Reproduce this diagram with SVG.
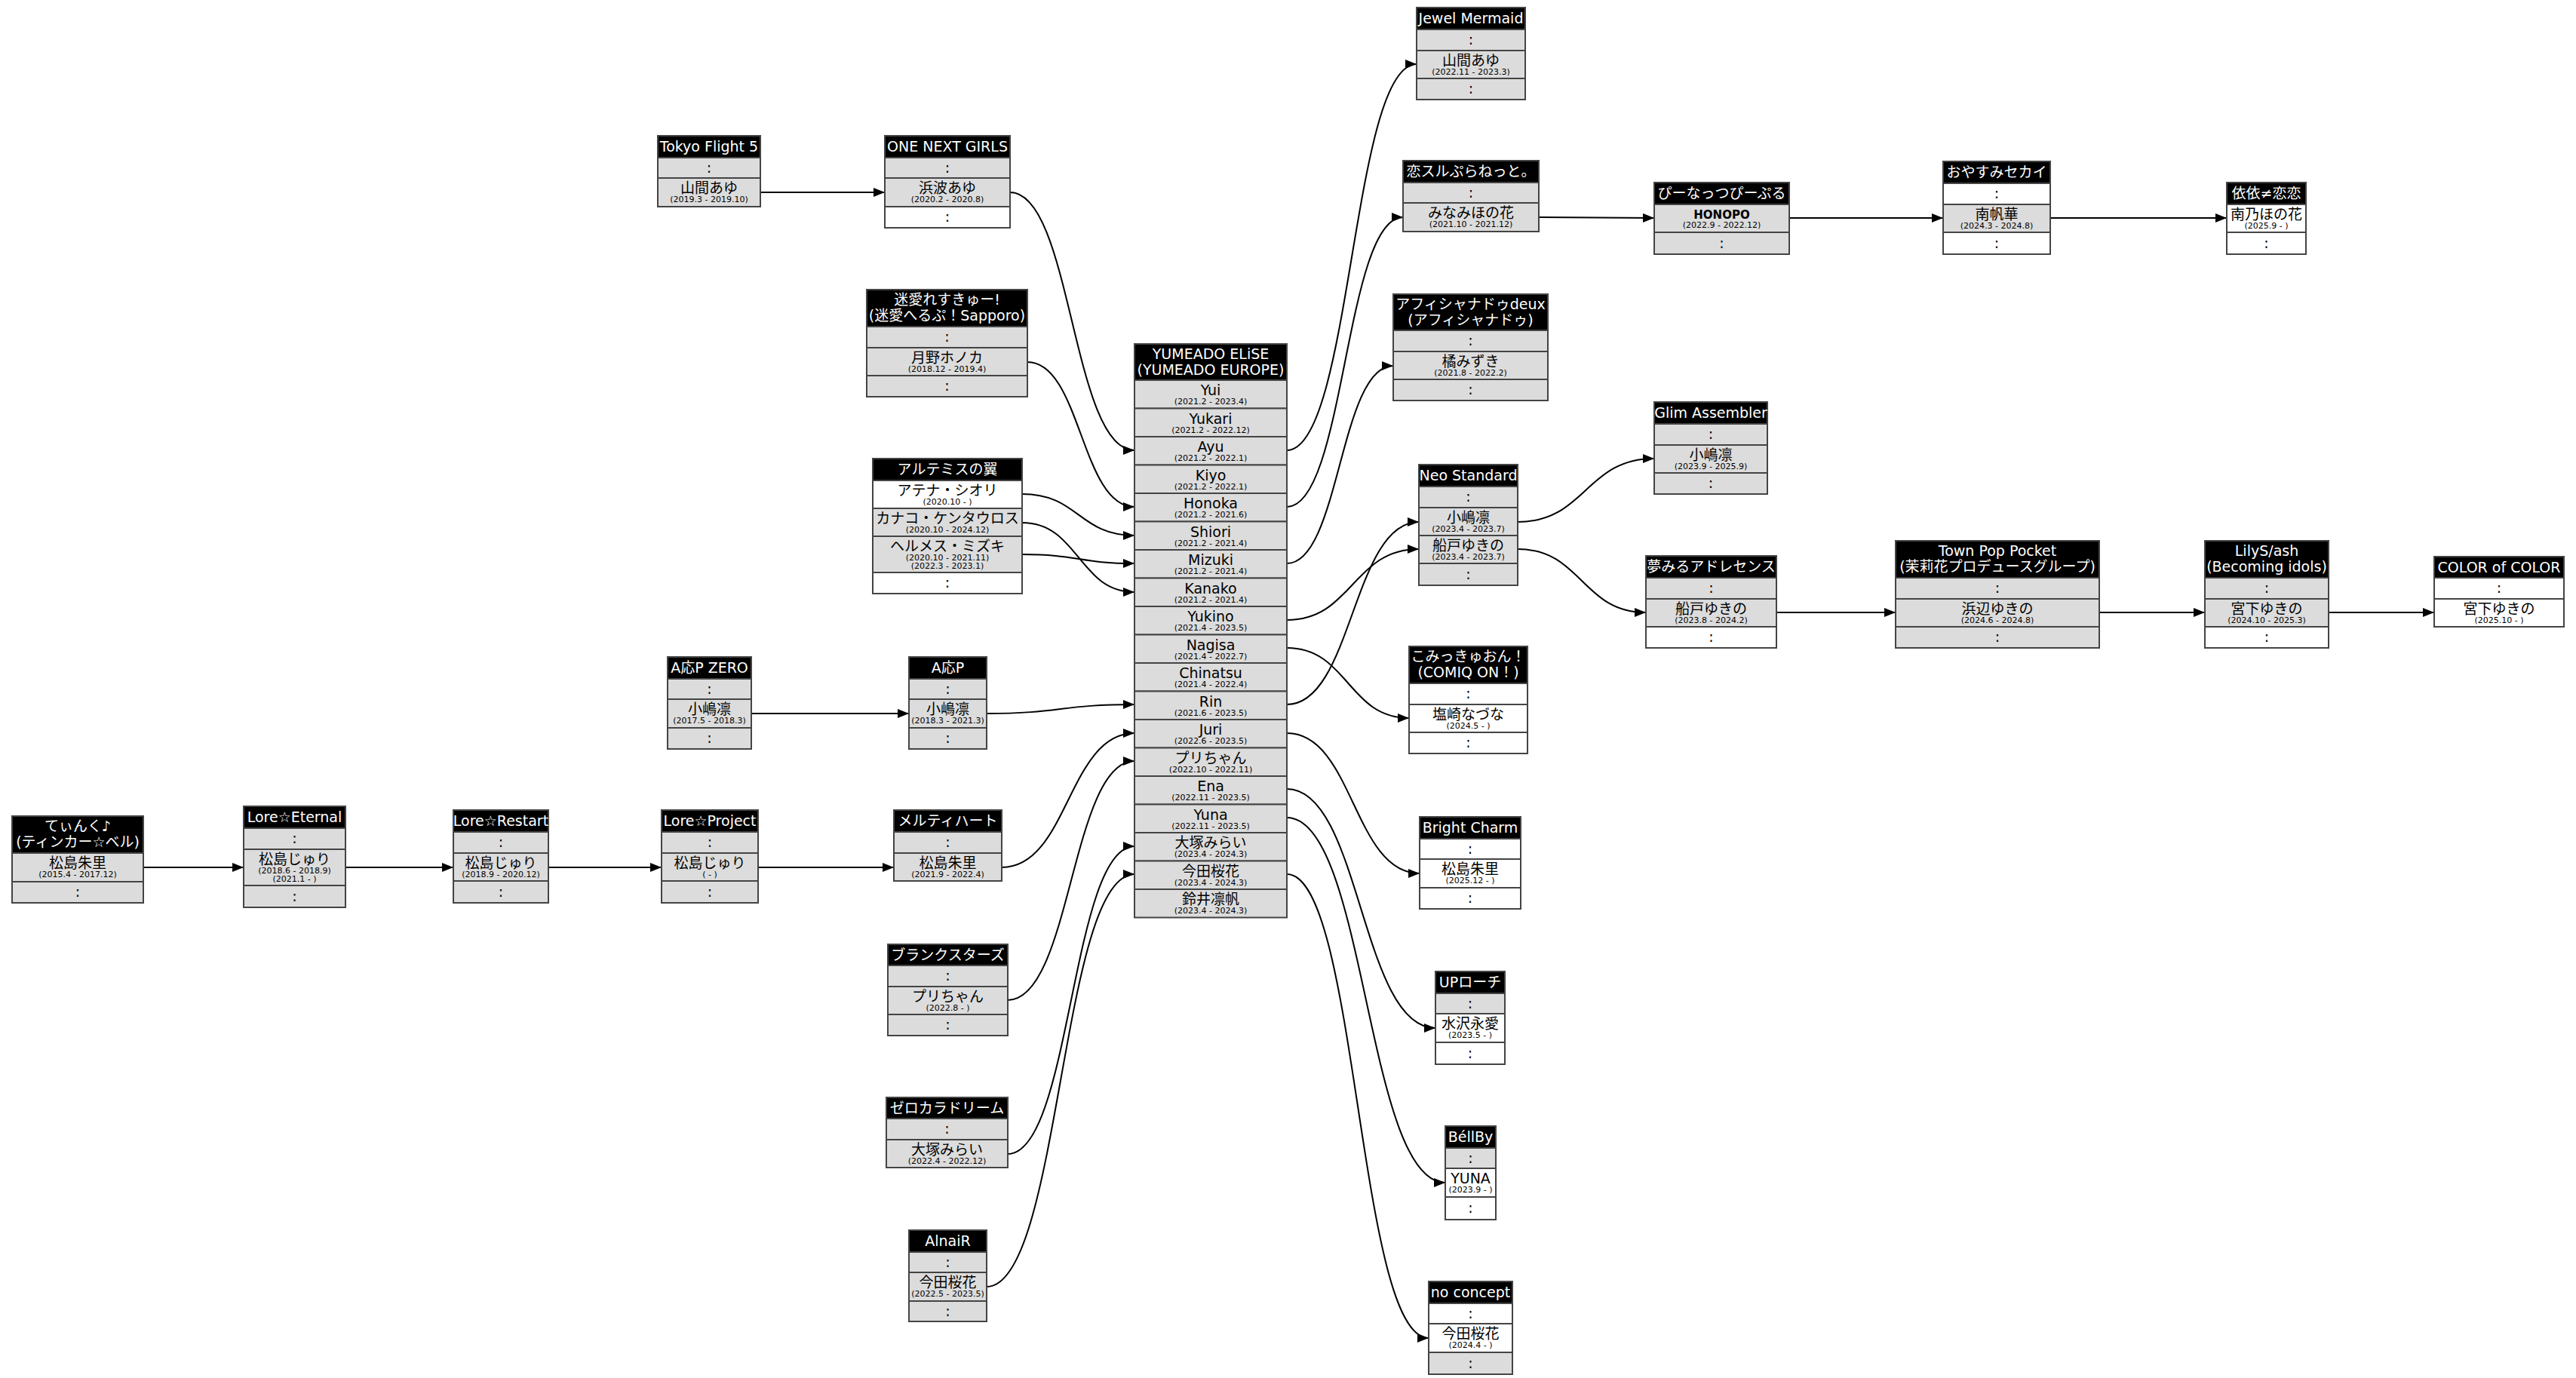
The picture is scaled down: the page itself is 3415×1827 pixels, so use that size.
<svg xmlns="http://www.w3.org/2000/svg" width="3415" height="1827" viewBox="0 0 3415 1827">
<style>
text{font-family:"DejaVu Sans","Noto Sans CJK JP",sans-serif;text-anchor:middle;fill:#000}
.t{fill:#fff;font-size:19px}
.n{font-size:19px}
.b{font-size:15px;font-weight:bold}
.d{font-size:11px}
.c{font-size:19px}
.h{fill:#000;stroke:#444;stroke-width:2}
.g{fill:#dcdcdc;stroke:#444;stroke-width:2}
.w{fill:#fff;stroke:#444;stroke-width:2}
.e path{fill:none;stroke:#000;stroke-width:2;marker-end:url(#a)}
</style>
<defs><marker id="a" markerUnits="userSpaceOnUse" markerWidth="16" markerHeight="12" refX="15" refY="6" orient="auto"><path d="M0,0 L15,6 L0,12 z" fill="#000"/></marker></defs>
<rect width="3415" height="1827" fill="#fff"/>
<g class="e">
<path d="M190,1150 L323,1150"/>
<path d="M458,1150 L601,1150"/>
<path d="M727,1150 L877,1150"/>
<path d="M1005,1150 L1185,1150"/>
<path d="M1328,1150 C1416,1150 1416,972 1504,972"/>
<path d="M1336,1326 C1420,1326 1420,1009 1504,1009"/>
<path d="M1336,1530 C1420,1530 1420,1122 1504,1122"/>
<path d="M1308,1706 C1406,1706 1406,1159 1504,1159"/>
<path d="M996,946 L1205,946"/>
<path d="M1308,946 C1406,946 1406,934 1504,934"/>
<path d="M1008,255 L1173,255"/>
<path d="M1339,255 C1421,255 1421,597 1504,597"/>
<path d="M1362,480 C1433,480 1433,672 1504,672"/>
<path d="M1355,655 C1430,655 1430,710 1504,710"/>
<path d="M1355,693 C1430,693 1430,785 1504,785"/>
<path d="M1355,735 C1430,735 1430,747 1504,747"/>
<path d="M1706,597 C1792,597 1792,85 1878,85"/>
<path d="M1706,672 C1783,672 1783,288 1860,288"/>
<path d="M1706,747 C1776,747 1776,485 1847,485"/>
<path d="M1706,822 C1793,822 1793,728 1881,728"/>
<path d="M1706,934 C1793,934 1793,692 1881,692"/>
<path d="M1706,859 C1787,859 1787,952 1868,952"/>
<path d="M1706,972 C1794,972 1794,1158 1882,1158"/>
<path d="M1706,1046 C1804,1046 1804,1363 1903,1363"/>
<path d="M1706,1084 C1811,1084 1811,1568 1916,1568"/>
<path d="M1706,1159 C1800,1159 1800,1774 1894,1774"/>
<path d="M2040,288 L2193,289"/>
<path d="M2372,289 L2576,289"/>
<path d="M2718,289 L2952,289"/>
<path d="M2012,692 C2102,692 2102,608 2193,608"/>
<path d="M2012,728 C2097,728 2097,812 2182,812"/>
<path d="M2355,812 L2513,812"/>
<path d="M2783,812 L2923,812"/>
<path d="M3087,812 L3227,812"/>
</g>

<g id="tinker">
<rect class="h" x="16" y="1082" width="174" height="49"/><text class="t" x="103" y="1102">てぃんく♪</text><text class="t" x="103" y="1123">(ティンカー☆ベル)</text>
<rect class="g" x="16" y="1131" width="174" height="38"/><text class="n" x="103" y="1151">松島朱里</text><text class="d" x="103" y="1163">(2015.4 - 2017.12)</text>
<rect class="g" x="16" y="1169" width="174" height="28"/><text class="c" x="103" y="1189">:</text>
</g>
<g id="loreEternal">
<rect class="h" x="323" y="1069" width="135" height="29"/><text class="t" x="390.5" y="1090">Lore☆Eternal</text>
<rect class="g" x="323" y="1098" width="135" height="28"/><text class="c" x="390.5" y="1118">:</text>
<rect class="g" x="323" y="1126" width="135" height="48"/><text class="n" x="390.5" y="1146">松島じゅり</text><text class="d" x="390.5" y="1158">(2018.6 - 2018.9)</text><text class="d" x="390.5" y="1169">(2021.1 - )</text>
<rect class="g" x="323" y="1174" width="135" height="29"/><text class="c" x="390.5" y="1195">:</text>
</g>
<g id="loreRestart">
<rect class="h" x="601" y="1074" width="126" height="29"/><text class="t" x="664" y="1095">Lore☆Restart</text>
<rect class="g" x="601" y="1103" width="126" height="28"/><text class="c" x="664" y="1123">:</text>
<rect class="g" x="601" y="1131" width="126" height="37"/><text class="n" x="664" y="1151">松島じゅり</text><text class="d" x="664" y="1163">(2018.9 - 2020.12)</text>
<rect class="g" x="601" y="1168" width="126" height="29"/><text class="c" x="664" y="1189">:</text>
</g>
<g id="loreProject">
<rect class="h" x="877" y="1074" width="128" height="29"/><text class="t" x="941" y="1095">Lore☆Project</text>
<rect class="g" x="877" y="1103" width="128" height="28"/><text class="c" x="941" y="1123">:</text>
<rect class="g" x="877" y="1131" width="128" height="37"/><text class="n" x="941" y="1151">松島じゅり</text><text class="d" x="941" y="1163">( - )</text>
<rect class="g" x="877" y="1168" width="128" height="29"/><text class="c" x="941" y="1189">:</text>
</g>
<g id="melty">
<rect class="h" x="1185" y="1074" width="143" height="29"/><text class="t" x="1256.5" y="1095">メルティハート</text>
<rect class="g" x="1185" y="1103" width="143" height="28"/><text class="c" x="1256.5" y="1123">:</text>
<rect class="g" x="1185" y="1131" width="143" height="37"/><text class="n" x="1256.5" y="1151">松島朱里</text><text class="d" x="1256.5" y="1163">(2021.9 - 2022.4)</text>
</g>
<g id="tokyoFlight5">
<rect class="h" x="872" y="180" width="136" height="29"/><text class="t" x="940" y="201">Tokyo Flight 5</text>
<rect class="g" x="872" y="209" width="136" height="27"/><text class="c" x="940" y="229">:</text>
<rect class="g" x="872" y="236" width="136" height="38"/><text class="n" x="940" y="256">山間あゆ</text><text class="d" x="940" y="268">(2019.3 - 2019.10)</text>
</g>
<g id="oneNextGirls">
<rect class="h" x="1173" y="180" width="166" height="29"/><text class="t" x="1256" y="201">ONE NEXT GIRLS</text>
<rect class="g" x="1173" y="209" width="166" height="27"/><text class="c" x="1256" y="229">:</text>
<rect class="g" x="1173" y="236" width="166" height="38"/><text class="n" x="1256" y="256">浜波あゆ</text><text class="d" x="1256" y="268">(2020.2 - 2020.8)</text>
<rect class="w" x="1173" y="274" width="166" height="28"/><text class="c" x="1256" y="294">:</text>
</g>
<g id="meiai">
<rect class="h" x="1149" y="384" width="213" height="49"/><text class="t" x="1255.5" y="404">迷愛れすきゅー!</text><text class="t" x="1255.5" y="425">(迷愛へるぷ！Sapporo)</text>
<rect class="g" x="1149" y="433" width="213" height="28"/><text class="c" x="1255.5" y="453">:</text>
<rect class="g" x="1149" y="461" width="213" height="37"/><text class="n" x="1255.5" y="481">月野ホノカ</text><text class="d" x="1255.5" y="493">(2018.12 - 2019.4)</text>
<rect class="g" x="1149" y="498" width="213" height="28"/><text class="c" x="1255.5" y="518">:</text>
</g>
<g id="artemis">
<rect class="h" x="1157" y="608" width="198" height="29"/><text class="t" x="1256" y="629">アルテミスの翼</text>
<rect class="w" x="1157" y="637" width="198" height="37"/><text class="n" x="1256" y="657">アテナ・シオリ</text><text class="d" x="1256" y="669">(2020.10 - )</text>
<rect class="g" x="1157" y="674" width="198" height="37"/><text class="n" x="1256" y="694">カナコ・ケンタウロス</text><text class="d" x="1256" y="706">(2020.10 - 2024.12)</text>
<rect class="g" x="1157" y="711" width="198" height="48"/><text class="n" x="1256" y="731">ヘルメス・ミズキ</text><text class="d" x="1256" y="743">(2020.10 - 2021.11)</text><text class="d" x="1256" y="754">(2022.3 - 2023.1)</text>
<rect class="w" x="1157" y="759" width="198" height="28"/><text class="c" x="1256" y="779">:</text>
</g>
<g id="aoupZero">
<rect class="h" x="885" y="871" width="111" height="29"/><text class="t" x="940.5" y="892">A応P ZERO</text>
<rect class="g" x="885" y="900" width="111" height="27"/><text class="c" x="940.5" y="920">:</text>
<rect class="g" x="885" y="927" width="111" height="38"/><text class="n" x="940.5" y="947">小嶋凛</text><text class="d" x="940.5" y="959">(2017.5 - 2018.3)</text>
<rect class="g" x="885" y="965" width="111" height="28"/><text class="c" x="940.5" y="985">:</text>
</g>
<g id="aoup">
<rect class="h" x="1205" y="871" width="103" height="29"/><text class="t" x="1256.5" y="892">A応P</text>
<rect class="g" x="1205" y="900" width="103" height="27"/><text class="c" x="1256.5" y="920">:</text>
<rect class="g" x="1205" y="927" width="103" height="38"/><text class="n" x="1256.5" y="947">小嶋凛</text><text class="d" x="1256.5" y="959">(2018.3 - 2021.3)</text>
<rect class="g" x="1205" y="965" width="103" height="28"/><text class="c" x="1256.5" y="985">:</text>
</g>
<g id="blankstars">
<rect class="h" x="1177" y="1252" width="159" height="28"/><text class="t" x="1256.5" y="1273">ブランクスターズ</text>
<rect class="g" x="1177" y="1280" width="159" height="28"/><text class="c" x="1256.5" y="1300">:</text>
<rect class="g" x="1177" y="1308" width="159" height="37"/><text class="n" x="1256.5" y="1328">プリちゃん</text><text class="d" x="1256.5" y="1340">(2022.8 - )</text>
<rect class="g" x="1177" y="1345" width="159" height="28"/><text class="c" x="1256.5" y="1365">:</text>
</g>
<g id="zerokara">
<rect class="h" x="1175" y="1455" width="161" height="28"/><text class="t" x="1255.5" y="1476">ゼロカラドリーム</text>
<rect class="g" x="1175" y="1483" width="161" height="28"/><text class="c" x="1255.5" y="1503">:</text>
<rect class="g" x="1175" y="1511" width="161" height="37"/><text class="n" x="1255.5" y="1531">大塚みらい</text><text class="d" x="1255.5" y="1543">(2022.4 - 2022.12)</text>
</g>
<g id="alnair">
<rect class="h" x="1205" y="1631" width="103" height="29"/><text class="t" x="1256.5" y="1652">AlnaiR</text>
<rect class="g" x="1205" y="1660" width="103" height="27"/><text class="c" x="1256.5" y="1680">:</text>
<rect class="g" x="1205" y="1687" width="103" height="38"/><text class="n" x="1256.5" y="1707">今田桜花</text><text class="d" x="1256.5" y="1719">(2022.5 - 2023.5)</text>
<rect class="g" x="1205" y="1725" width="103" height="27"/><text class="c" x="1256.5" y="1745">:</text>
</g>
<g id="yumeado">
<rect class="h" x="1504" y="456" width="202" height="48"/><text class="t" x="1605" y="476">YUMEADO ELiSE</text><text class="t" x="1605" y="497">(YUMEADO EUROPE)</text>
<rect class="g" x="1504" y="504" width="202" height="37.5"/><text class="n" x="1605" y="524">Yui</text><text class="d" x="1605" y="536">(2021.2 - 2023.4)</text>
<rect class="g" x="1504" y="541.5" width="202" height="37.5"/><text class="n" x="1605" y="561.5">Yukari</text><text class="d" x="1605" y="573.5">(2021.2 - 2022.12)</text>
<rect class="g" x="1504" y="579" width="202" height="37.5"/><text class="n" x="1605" y="599">Ayu</text><text class="d" x="1605" y="611">(2021.2 - 2022.1)</text>
<rect class="g" x="1504" y="616.5" width="202" height="37.5"/><text class="n" x="1605" y="636.5">Kiyo</text><text class="d" x="1605" y="648.5">(2021.2 - 2022.1)</text>
<rect class="g" x="1504" y="654" width="202" height="37.5"/><text class="n" x="1605" y="674">Honoka</text><text class="d" x="1605" y="686">(2021.2 - 2021.6)</text>
<rect class="g" x="1504" y="691.5" width="202" height="37.5"/><text class="n" x="1605" y="711.5">Shiori</text><text class="d" x="1605" y="723.5">(2021.2 - 2021.4)</text>
<rect class="g" x="1504" y="729" width="202" height="37.5"/><text class="n" x="1605" y="749">Mizuki</text><text class="d" x="1605" y="761">(2021.2 - 2021.4)</text>
<rect class="g" x="1504" y="766.5" width="202" height="37.5"/><text class="n" x="1605" y="786.5">Kanako</text><text class="d" x="1605" y="798.5">(2021.2 - 2021.4)</text>
<rect class="g" x="1504" y="804" width="202" height="37.5"/><text class="n" x="1605" y="824">Yukino</text><text class="d" x="1605" y="836">(2021.4 - 2023.5)</text>
<rect class="g" x="1504" y="841.5" width="202" height="37.5"/><text class="n" x="1605" y="861.5">Nagisa</text><text class="d" x="1605" y="873.5">(2021.4 - 2022.7)</text>
<rect class="g" x="1504" y="879" width="202" height="37.5"/><text class="n" x="1605" y="899">Chinatsu</text><text class="d" x="1605" y="911">(2021.4 - 2022.4)</text>
<rect class="g" x="1504" y="916.5" width="202" height="37.5"/><text class="n" x="1605" y="936.5">Rin</text><text class="d" x="1605" y="948.5">(2021.6 - 2023.5)</text>
<rect class="g" x="1504" y="954" width="202" height="37.5"/><text class="n" x="1605" y="974">Juri</text><text class="d" x="1605" y="986">(2022.6 - 2023.5)</text>
<rect class="g" x="1504" y="991.5" width="202" height="37.5"/><text class="n" x="1605" y="1011.5">プリちゃん</text><text class="d" x="1605" y="1023.5">(2022.10 - 2022.11)</text>
<rect class="g" x="1504" y="1029" width="202" height="37.5"/><text class="n" x="1605" y="1049">Ena</text><text class="d" x="1605" y="1061">(2022.11 - 2023.5)</text>
<rect class="g" x="1504" y="1066.5" width="202" height="37.5"/><text class="n" x="1605" y="1086.5">Yuna</text><text class="d" x="1605" y="1098.5">(2022.11 - 2023.5)</text>
<rect class="g" x="1504" y="1104" width="202" height="37.5"/><text class="n" x="1605" y="1124">大塚みらい</text><text class="d" x="1605" y="1136">(2023.4 - 2024.3)</text>
<rect class="g" x="1504" y="1141.5" width="202" height="37.5"/><text class="n" x="1605" y="1161.5">今田桜花</text><text class="d" x="1605" y="1173.5">(2023.4 - 2024.3)</text>
<rect class="g" x="1504" y="1179" width="202" height="37.5"/><text class="n" x="1605" y="1199">鈴井凛帆</text><text class="d" x="1605" y="1211">(2023.4 - 2024.3)</text>
</g>
<g id="jewelMermaid">
<rect class="h" x="1878" y="10" width="144" height="29"/><text class="t" x="1950" y="31">Jewel Mermaid</text>
<rect class="g" x="1878" y="39" width="144" height="28"/><text class="c" x="1950" y="59">:</text>
<rect class="g" x="1878" y="67" width="144" height="37"/><text class="n" x="1950" y="87">山間あゆ</text><text class="d" x="1950" y="99">(2022.11 - 2023.3)</text>
<rect class="g" x="1878" y="104" width="144" height="28"/><text class="c" x="1950" y="124">:</text>
</g>
<g id="koisuru">
<rect class="h" x="1860" y="213" width="180" height="29"/><text class="t" x="1950" y="234">恋スルぷらねっと。</text>
<rect class="g" x="1860" y="242" width="180" height="27"/><text class="c" x="1950" y="262">:</text>
<rect class="g" x="1860" y="269" width="180" height="38"/><text class="n" x="1950" y="289">みなみほの花</text><text class="d" x="1950" y="301">(2021.10 - 2021.12)</text>
</g>
<g id="afi">
<rect class="h" x="1847" y="390" width="205" height="48"/><text class="t" x="1949.5" y="410">アフィシャナドゥdeux</text><text class="t" x="1949.5" y="431">(アフィシャナドゥ)</text>
<rect class="g" x="1847" y="438" width="205" height="28"/><text class="c" x="1949.5" y="458">:</text>
<rect class="g" x="1847" y="466" width="205" height="37"/><text class="n" x="1949.5" y="486">橘みずき</text><text class="d" x="1949.5" y="498">(2021.8 - 2022.2)</text>
<rect class="g" x="1847" y="503" width="205" height="28"/><text class="c" x="1949.5" y="523">:</text>
</g>
<g id="neoStandard">
<rect class="h" x="1881" y="616" width="131" height="29"/><text class="t" x="1946.5" y="637">Neo Standard</text>
<rect class="g" x="1881" y="645" width="131" height="28"/><text class="c" x="1946.5" y="665">:</text>
<rect class="g" x="1881" y="673" width="131" height="37"/><text class="n" x="1946.5" y="693">小嶋凛</text><text class="d" x="1946.5" y="705">(2023.4 - 2023.7)</text>
<rect class="g" x="1881" y="710" width="131" height="37"/><text class="n" x="1946.5" y="730">船戸ゆきの</text><text class="d" x="1946.5" y="742">(2023.4 - 2023.7)</text>
<rect class="g" x="1881" y="747" width="131" height="29"/><text class="c" x="1946.5" y="768">:</text>
</g>
<g id="comiq">
<rect class="h" x="1868" y="857" width="157" height="49"/><text class="t" x="1946.5" y="877">こみっきゅおん！</text><text class="t" x="1946.5" y="898">(COMIQ ON！)</text>
<rect class="w" x="1868" y="906" width="157" height="28"/><text class="c" x="1946.5" y="926">:</text>
<rect class="w" x="1868" y="934" width="157" height="37"/><text class="n" x="1946.5" y="954">塩崎なづな</text><text class="d" x="1946.5" y="966">(2024.5 - )</text>
<rect class="w" x="1868" y="971" width="157" height="28"/><text class="c" x="1946.5" y="991">:</text>
</g>
<g id="brightCharm">
<rect class="h" x="1882" y="1083" width="134" height="29"/><text class="t" x="1949" y="1104">Bright Charm</text>
<rect class="w" x="1882" y="1112" width="134" height="27"/><text class="c" x="1949" y="1132">:</text>
<rect class="w" x="1882" y="1139" width="134" height="38"/><text class="n" x="1949" y="1159">松島朱里</text><text class="d" x="1949" y="1171">(2025.12 - )</text>
<rect class="w" x="1882" y="1177" width="134" height="28"/><text class="c" x="1949" y="1197">:</text>
</g>
<g id="uproach">
<rect class="h" x="1903" y="1288" width="92" height="29"/><text class="t" x="1949" y="1309">UPローチ</text>
<rect class="g" x="1903" y="1317" width="92" height="27"/><text class="c" x="1949" y="1337">:</text>
<rect class="w" x="1903" y="1344" width="92" height="38"/><text class="n" x="1949" y="1364">水沢永愛</text><text class="d" x="1949" y="1376">(2023.5 - )</text>
<rect class="w" x="1903" y="1382" width="92" height="29"/><text class="c" x="1949" y="1403">:</text>
</g>
<g id="bellby">
<rect class="h" x="1916" y="1493" width="67" height="29"/><text class="t" x="1949.5" y="1514">BéllBy</text>
<rect class="g" x="1916" y="1522" width="67" height="27"/><text class="c" x="1949.5" y="1542">:</text>
<rect class="w" x="1916" y="1549" width="67" height="38"/><text class="n" x="1949.5" y="1569">YUNA</text><text class="d" x="1949.5" y="1581">(2023.9 - )</text>
<rect class="w" x="1916" y="1587" width="67" height="30"/><text class="c" x="1949.5" y="1608">:</text>
</g>
<g id="noConcept">
<rect class="h" x="1894" y="1699" width="111" height="29"/><text class="t" x="1949.5" y="1720">no concept</text>
<rect class="w" x="1894" y="1728" width="111" height="27"/><text class="c" x="1949.5" y="1748">:</text>
<rect class="w" x="1894" y="1755" width="111" height="38"/><text class="n" x="1949.5" y="1775">今田桜花</text><text class="d" x="1949.5" y="1787">(2024.4 - )</text>
<rect class="g" x="1894" y="1793" width="111" height="29"/><text class="c" x="1949.5" y="1814">:</text>
</g>
<g id="peanuts">
<rect class="h" x="2193" y="242" width="179" height="29"/><text class="t" x="2282.5" y="263">ぴーなっつぴーぷる</text>
<rect class="g" x="2193" y="271" width="179" height="37"/><text class="b" x="2282.5" y="290">HONOPO</text><text class="d" x="2282.5" y="302">(2022.9 - 2022.12)</text>
<rect class="g" x="2193" y="308" width="179" height="29"/><text class="c" x="2282.5" y="329">:</text>
</g>
<g id="oyasumi">
<rect class="h" x="2576" y="214" width="142" height="29"/><text class="t" x="2647" y="235">おやすみセカイ</text>
<rect class="w" x="2576" y="243" width="142" height="28"/><text class="c" x="2647" y="263">:</text>
<rect class="g" x="2576" y="271" width="142" height="37"/><text class="n" x="2647" y="291">南帆華</text><text class="d" x="2647" y="303">(2024.3 - 2024.8)</text>
<rect class="w" x="2576" y="308" width="142" height="29"/><text class="c" x="2647" y="329">:</text>
</g>
<g id="yiyi">
<rect class="h" x="2952" y="242" width="105" height="29"/><text class="t" x="3004.5" y="263">依依≠恋恋</text>
<rect class="w" x="2952" y="271" width="105" height="37"/><text class="n" x="3004.5" y="291">南乃ほの花</text><text class="d" x="3004.5" y="303">(2025.9 - )</text>
<rect class="w" x="2952" y="308" width="105" height="29"/><text class="c" x="3004.5" y="329">:</text>
</g>
<g id="glim">
<rect class="h" x="2193" y="533" width="150" height="29"/><text class="t" x="2268" y="554">Glim Assembler</text>
<rect class="g" x="2193" y="562" width="150" height="28"/><text class="c" x="2268" y="582">:</text>
<rect class="g" x="2193" y="590" width="150" height="37"/><text class="n" x="2268" y="610">小嶋凛</text><text class="d" x="2268" y="622">(2023.9 - 2025.9)</text>
<rect class="g" x="2193" y="627" width="150" height="28"/><text class="c" x="2268" y="647">:</text>
</g>
<g id="yumemiru">
<rect class="h" x="2182" y="737" width="173" height="29"/><text class="t" x="2268.5" y="758">夢みるアドレセンス</text>
<rect class="g" x="2182" y="766" width="173" height="28"/><text class="c" x="2268.5" y="786">:</text>
<rect class="g" x="2182" y="794" width="173" height="37"/><text class="n" x="2268.5" y="814">船戸ゆきの</text><text class="d" x="2268.5" y="826">(2023.8 - 2024.2)</text>
<rect class="w" x="2182" y="831" width="173" height="28"/><text class="c" x="2268.5" y="851">:</text>
</g>
<g id="townPop">
<rect class="h" x="2513" y="717" width="270" height="49"/><text class="t" x="2648" y="737">Town Pop Pocket</text><text class="t" x="2648" y="758">(茉莉花プロデュースグループ)</text>
<rect class="g" x="2513" y="766" width="270" height="28"/><text class="c" x="2648" y="786">:</text>
<rect class="g" x="2513" y="794" width="270" height="37"/><text class="n" x="2648" y="814">浜辺ゆきの</text><text class="d" x="2648" y="826">(2024.6 - 2024.8)</text>
<rect class="g" x="2513" y="831" width="270" height="28"/><text class="c" x="2648" y="851">:</text>
</g>
<g id="lilys">
<rect class="h" x="2923" y="717" width="164" height="49"/><text class="t" x="3005" y="737">LilyS/ash</text><text class="t" x="3005" y="758">(Becoming idols)</text>
<rect class="g" x="2923" y="766" width="164" height="28"/><text class="c" x="3005" y="786">:</text>
<rect class="g" x="2923" y="794" width="164" height="37"/><text class="n" x="3005" y="814">宮下ゆきの</text><text class="d" x="3005" y="826">(2024.10 - 2025.3)</text>
<rect class="w" x="2923" y="831" width="164" height="28"/><text class="c" x="3005" y="851">:</text>
</g>
<g id="colorOfColor">
<rect class="h" x="3227" y="738" width="172" height="28"/><text class="t" x="3313" y="759">COLOR of COLOR</text>
<rect class="w" x="3227" y="766" width="172" height="28"/><text class="c" x="3313" y="786">:</text>
<rect class="w" x="3227" y="794" width="172" height="37"/><text class="n" x="3313" y="814">宮下ゆきの</text><text class="d" x="3313" y="826">(2025.10 - )</text>
</g>
</svg>
